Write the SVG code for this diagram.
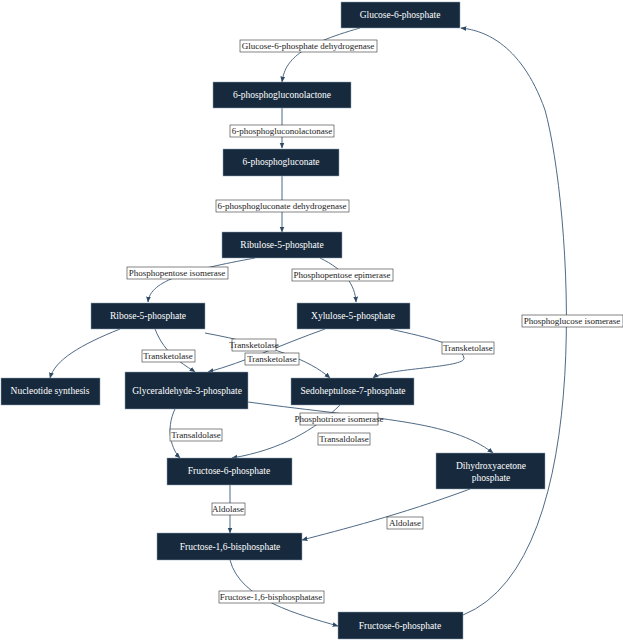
<svg xmlns="http://www.w3.org/2000/svg" width="623" height="642" viewBox="0 0 623 642">
<style>
.n rect{fill:#172a3d;stroke:#8fa3b5;stroke-width:0.5}
.n text{fill:#fff;font-family:"Liberation Serif",serif;font-size:9.5px;text-anchor:middle}
.e path{fill:none;stroke:#4f6a85;stroke-width:1;marker-end:url(#a)}
.l rect{fill:#fff;stroke:#333;stroke-width:0.6}
.l text{fill:#222;font-family:"Liberation Serif",serif;font-size:9px;text-anchor:middle}
</style>
<defs><marker id="a" viewBox="0 0 10 10" refX="9" refY="5" markerWidth="6" markerHeight="6" orient="auto"><path d="M0,1L10,5L0,9z" fill="#2f4a65"/></marker></defs>
<rect width="623" height="642" fill="#fff"/>
<g class="e">
<path d="M360,28 C300,45 285,60 282,82"/>
<path d="M282,108 L282,148"/>
<path d="M282,176 L282,232"/>
<path d="M255,258 C190,270 150,280 148,302"/>
<path d="M320,258 C345,270 355,285 356,302"/>
<path d="M120,329 C80,345 55,360 50,378"/>
<path d="M155,329 C165,355 185,365 195,372"/>
<path d="M205,333 C270,345 310,360 330,378"/>
<path d="M325,329 C280,345 245,362 208,372"/>
<path d="M390,329 C430,338 462,345 464,358 C466,368 385,368 373,378"/>
<path d="M248,402 C380,420 450,420 493,453"/>
<path d="M175,409 C165,430 172,450 180,458"/>
<path d="M340,405 C315,430 280,450 232,458"/>
<path d="M230,485 L230,533"/>
<path d="M470,489 C400,515 340,530 302,540"/>
<path d="M230,560 C240,600 300,615 338,626"/>
<path d="M463,615 C600,560 570,200 545,110 C520,40 480,30 461,28"/>
</g>
<g class="n">
<g id="g6p"><rect x="341" y="2" width="119" height="26"/><text x="400" y="18">Glucose-6-phosphate</text></g>
<g id="pgl"><rect x="213" y="82" width="138" height="26"/><text x="282" y="98">6-phosphogluconolactone</text></g>
<g id="pg"><rect x="223" y="149" width="116" height="27"/><text x="281" y="165">6-phosphogluconate</text></g>
<g id="ru5p"><rect x="222" y="232" width="120" height="26"/><text x="282" y="248">Ribulose-5-phosphate</text></g>
<g id="r5p"><rect x="91" y="303" width="114" height="26"/><text x="148" y="319">Ribose-5-phosphate</text></g>
<g id="x5p"><rect x="297" y="303" width="113" height="26"/><text x="353" y="319">Xylulose-5-phosphate</text></g>
<g id="nuc"><rect x="1" y="378" width="99" height="27"/><text x="50" y="394">Nucleotide synthesis</text></g>
<g id="g3p"><rect x="125" y="372" width="123" height="37"/><text x="187" y="394">Glyceraldehyde-3-phosphate</text></g>
<g id="s7p"><rect x="291" y="378" width="123" height="27"/><text x="353" y="394">Sedoheptulose-7-phosphate</text></g>
<g id="f6p"><rect x="167" y="458" width="125" height="27"/><text x="229" y="474">Fructose-6-phosphate</text></g>
<g id="dhap"><rect x="436" y="453" width="109" height="36"/><text x="491" y="469">Dihydroxyacetone</text><text x="491" y="481">phosphate</text></g>
<g id="f16bp"><rect x="157" y="533" width="145" height="27"/><text x="230" y="550">Fructose-1,6-bisphosphate</text></g>
<g id="f6p2"><rect x="338" y="612" width="125" height="27"/><text x="400" y="629">Fructose-6-phosphate</text></g>
</g>
<g class="l">
<rect x="240" y="40" width="137" height="12"/><text x="308" y="49">Glucose-6-phosphate dehydrogenase</text>
<rect x="230" y="125" width="104" height="12"/><text x="282" y="134">6-phosphogluconolactonase</text>
<rect x="216" y="200" width="133" height="12"/><text x="282" y="209">6-phosphogluconate dehydrogenase</text>
<rect x="127" y="267" width="101" height="12"/><text x="177" y="276">Phosphopentose isomerase</text>
<rect x="292" y="269" width="101" height="12"/><text x="342" y="278">Phosphopentose epimerase</text>
<rect x="142" y="350" width="53" height="12"/><text x="168" y="359">Transketolase</text>
<rect x="232" y="339" width="44" height="12"/><text x="254" y="348">Transketolase</text>
<rect x="245" y="353" width="54" height="12"/><text x="272" y="362">Transketolase</text>
<rect x="442" y="342" width="52" height="12"/><text x="468" y="351">Transketolase</text>
<rect x="522" y="315" width="101" height="12"/><text x="572" y="324">Phosphoglucose isomerase</text>
<rect x="300" y="413" width="78" height="12"/><text x="339" y="422">Phosphotriose isomerase</text>
<rect x="170" y="429" width="52" height="12"/><text x="196" y="438">Transaldolase</text>
<rect x="318" y="433" width="52" height="12"/><text x="344" y="442">Transaldolase</text>
<rect x="212" y="503" width="33" height="12"/><text x="228" y="512">Aldolase</text>
<rect x="387" y="517" width="36" height="12"/><text x="405" y="526">Aldolase</text>
<rect x="219" y="591" width="105" height="12"/><text x="271" y="600">Fructose-1,6-bisphosphatase</text>
</g>
</svg>
